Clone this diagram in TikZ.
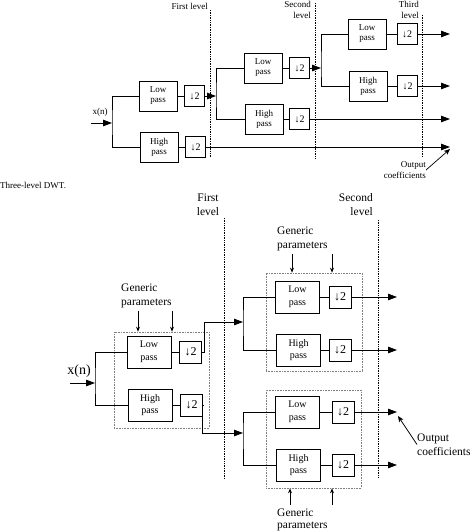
\documentclass[tikz,border=0pt]{standalone}
\usepackage{fontspec}
\setmainfont{Liberation Serif}
\usetikzlibrary{arrows.meta}
\tikzset{
    wire/.style={line width=0.8pt},
    sig/.style={
        wire,
        -{Triangle[length=9pt,width=6.5pt]}},
    parr/.style={
        line width=0.7pt,
        -{Stealth[length=5pt,width=4pt]}},
    ptr/.style={
        line width=0.7pt,
        -{Stealth[length=6pt,width=5pt,inset=1.5pt]}},
    tfilt/.style={
        draw,
        line width=0.9pt,
        align=center,
        inner sep=0pt,
        minimum width=38pt,
        minimum height=30pt,
        font=\fontsize{9}{10}\selectfont},
    tdown/.style={
        draw,
        line width=0.9pt,
        inner sep=0pt,
        minimum width=20pt,
        minimum height=21pt,
        font=\fontsize{10}{10}\selectfont},
    bfilt/.style={
        tfilt,
        minimum width=44pt,
        minimum height=32pt,
        font=\fontsize{10}{12.5}\selectfont},
    bdown/.style={
        tdown,
        minimum width=22pt,
        minimum height=22pt,
        font=\fontsize{12}{12}\selectfont},
    grp/.style={
        draw=gray,
        densely dotted,
        line width=0.6pt},
    lvl/.style={
        densely dotted,
        line width=0.7pt},
    ttext/.style={
        inner sep=0pt,
        font=\fontsize{9}{11}\selectfont},
    btext/.style={
        inner sep=0pt,
        font=\fontsize{11.5}{14}\selectfont}}

\begin{document}
\begin{tikzpicture}[x=1pt,y=-1pt]
    \useasboundingbox (0,0) rectangle (474,532);

    % three-level DWT
    \node[tfilt] (lp1) at (158,96) {Low\\pass};
    \node[tdown] (dl1) at (194.5,96) {↓2};
    \node[tfilt] (hp1) at (159,147) {High\\pass};
    \node[tdown] (dh1) at (195.5,147) {↓2};
    \node[tfilt] (lp2) at (263,68) {Low\\pass};
    \node[tdown] (dl2) at (299.5,68) {↓2};
    \node[tfilt] (hp2) at (264,119) {High\\pass};
    \node[tdown] (dh2) at (299.5,119) {↓2};
    \node[tfilt] (lp3) at (367,34) {Low\\pass};
    \node[tdown] (dl3) at (407,34) {↓2};
    \node[tfilt] (hp3) at (368,86) {High\\pass};
    \node[tdown] (dh3) at (407.5,86) {↓2};

    \coordinate (xin1) at (91,123);
    \coordinate (sp1) at (112,123);
    \coordinate (br1) at (216,96);
    \coordinate (br2) at (321,68);
    \node[ttext] (xn1) at (100,112) {x(n)};

    \draw[sig] (xin1) -- (sp1);
    \draw[wire] (lp1) -| (sp1) |- (hp1);
    \draw[wire] (lp1) -- (dl1);
    \draw[wire] (hp1) -- (dh1);
    \draw[sig] (dl1) -- (br1);
    \draw[wire] (lp2) -| (br1) |- (hp2);
    \draw[wire] (lp2) -- (dl2);
    \draw[wire] (hp2) -- (dh2);
    \draw[sig] (dl2) -- (br2);
    \draw[wire] (lp3) -| (br2) |- (hp3);
    \draw[wire] (lp3) -- (dl3);
    \draw[wire] (hp3) -- (dh3);

    \coordinate (out3a) at (450,34);
    \coordinate (out3b) at (450,86);
    \coordinate (out2b) at (450,119);
    \coordinate (out1b) at (450,147);
    \draw[sig] (dl3) -- (out3a);
    \draw[sig] (dh3) -- (out3b);
    \draw[sig] (dh2) -- (out2b);
    \draw[sig] (dh1) -- (out1b);

    \node[ttext, anchor=east] (lv1) at (208,6) {First level};
    \node[ttext, anchor=east, align=right] (lv2) at (311,10) {Second\\level};
    \node[ttext, anchor=east, align=right] (lv3) at (419,10) {Third\\level};
    \draw[lvl] (210,10) -- (210,157);
    \draw[lvl] (315,3) -- (315,159);
    \draw[lvl] (422,15) -- (422,157);

    \node[ttext, anchor=east, align=right] (oc1) at (426,170) {Output\\coefficients};
    \coordinate (oc1t) at (450,149);
    \draw[ptr] (oc1.east) -- (oc1t);

    \node[ttext, anchor=west] (cap) at (0,185) {Three-level DWT.};

    % two-level DWT with generic parameters
    \node[grp, minimum width=95pt, minimum height=96pt] (gA) at (161.5,380) {};
    \node[grp, minimum width=96pt, minimum height=98pt] (gB) at (314,322) {};
    \node[grp, minimum width=95pt, minimum height=98pt] (gC) at (313.5,439) {};

    \node[bfilt] (lpA) at (149,352) {Low\\pass};
    \node[bdown] (dlA) at (190.5,352) {↓2};
    \node[bfilt] (hpA) at (150,405) {High\\pass};
    \node[bdown] (dhA) at (191.5,405) {↓2};
    \node[bfilt] (lpB) at (297.5,297) {Low\\pass};
    \node[bdown] (dlB) at (340,297) {↓2};
    \node[bfilt] (hpB) at (298.5,350) {High\\pass};
    \node[bdown] (dhB) at (340,350) {↓2};
    \node[bfilt] (lpC) at (297.5,412) {Low\\pass};
    \node[bdown] (dlC) at (343,412) {↓2};
    \node[bfilt] (hpC) at (298.5,465) {High\\pass};
    \node[bdown] (dhC) at (343,465) {↓2};

    \coordinate (xin2) at (70,383);
    \coordinate (sp2) at (95,383);
    \coordinate (brB) at (243,322);
    \coordinate (brC) at (243,433);
    \node[btext, font=\fontsize{14}{14}\selectfont] (xn2) at (79,371) {x(n)};

    \draw[sig] (xin2) -- (sp2);
    \draw[wire] (lpA) -| (sp2) |- (hpA);
    \draw[wire] (lpA) -- (dlA);
    \draw[wire] (hpA) -- (dhA);
    \draw[sig] (dlA) -- ++(14,0) |- (brB);
    \draw[sig] (dhA) -- ++(11,0) |- (brC);
    \draw[wire] (lpB) -| (brB) |- (hpB);
    \draw[wire] (lpB) -- (dlB);
    \draw[wire] (hpB) -- (dhB);
    \draw[wire] (lpC) -| (brC) |- (hpC);
    \draw[wire] (lpC) -- (dlC);
    \draw[wire] (hpC) -- (dhC);

    \coordinate (outB1) at (397,297);
    \coordinate (outB2) at (397,350);
    \coordinate (outC1) at (397,412);
    \coordinate (outC2) at (397,465);
    \draw[sig] (dlB) -- (outB1);
    \draw[sig] (dhB) -- (outB2);
    \draw[sig] (dlC) -- (outC1);
    \draw[sig] (dhC) -- (outC2);

    \node[btext, align=center] (lvA) at (208,205) {First\\level};
    \node[btext, anchor=east, align=right] (lvB) at (373,205) {Second\\level};
    \draw[lvl] (224,218) -- (224,479);
    \draw[lvl] (378,220) -- (378,478);

    \node[btext, anchor=west, align=left] (gpA) at (121,296) {Generic\\parameters};
    \draw[parr] (138,0 |- gpA.south) ++(0,3) -- (138,0 |- gA.north);
    \draw[parr] (172,0 |- gpA.south) ++(0,3) -- (172,0 |- gA.north);
    \node[btext, anchor=west, align=left] (gpB) at (277,239) {Generic\\parameters};
    \draw[parr] (292,0 |- gpB.south) ++(0,3) -- (292,0 |- gB.north);
    \draw[parr] (332,0 |- gpB.south) ++(0,3) -- (332,0 |- gB.north);
    \node[btext, anchor=west, align=left, font=\fontsize{11.5}{12}\selectfont] (gpC) at (277,519.5) {Generic\\parameters};
    \draw[parr] (290,0 |- gpC.north) ++(0,-3) -- (290,0 |- gC.south);
    \draw[parr] (332,0 |- gpC.north) ++(0,-3) -- (332,0 |- gC.south);

    \node[btext, anchor=west, align=left] (oc2) at (417,444.5) {Output\\coefficients};
    \coordinate (oc2t) at (398,416);
    \draw[ptr] (oc2.west) -- (oc2t);
\end{tikzpicture}
\end{document}
